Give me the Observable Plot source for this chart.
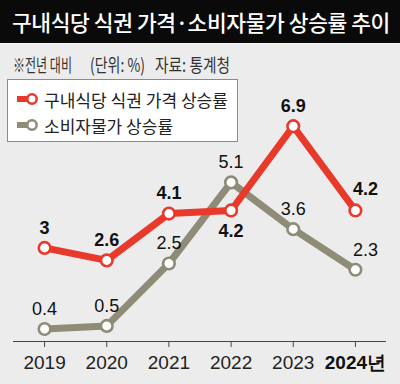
<!DOCTYPE html>
<html><head><meta charset="utf-8">
<script src="https://cdn.jsdelivr.net/npm/d3@7"></script>
<script src="https://cdn.jsdelivr.net/npm/@observablehq/plot@0.6"></script>
<style>
body{margin:0;}
#wrap{position:relative;width:400px;height:384px;background:#ececec;overflow:hidden;font-family:"Noto Sans CJK KR",sans-serif;}
#title{height:44px;background:#0a0a0a;color:#fff;line-height:43px;padding-left:12px;white-space:nowrap;font-weight:500;border-bottom:1px solid #f6f6f6;box-sizing:border-box;}
#sub{position:absolute;top:44px;left:0;width:400px;height:36px;color:#333;}
#sub .part{position:absolute;top:0;line-height:40px;font-size:18.5px;white-space:pre;transform-origin:0 50%;display:inline-block;}
#legend{position:absolute;left:7px;top:79px;width:231px;height:63px;background:#fff;border:1px solid #8a8a8a;box-sizing:border-box;}
.item{position:absolute;left:8px;height:22px;display:flex;align-items:center;color:#222;white-space:nowrap;}
.item svg{margin-right:6px;}
#chart{position:absolute;left:0;top:80px;}
.fit{display:inline-block;white-space:pre;}
</style>
</head><body>
<div id="wrap">
  <div id="title"><span class="fit" id="titleText"></span></div>
  <div id="sub"></div>
  <div id="chart"></div>
  <div id="legend"></div>
</div>
<script>
const titleText = "구내식당 식권 가격·소비자물가 상승률 추이";
const subtitleParts = ["※전년 대비", "(단위: %)", "자료: 통계청"];
const years = [2019, 2020, 2021, 2022, 2023, 2024];
const tickLabels = ["2019", "2020", "2021", "2022", "2023", "2024년"];
const seriesNames = ["구내식당 식권 가격 상승률", "소비자물가 상승률"];
const cafeteria = [3, 2.6, 4.1, 4.2, 6.9, 4.2];
const cpi = [0.4, 0.5, 2.5, 5.1, 3.6, 2.3];
const colors = ["#e8392b", "#8e8b77"];

function fit(el, size, target) {
  el.style.fontSize = size + "px";
  for (let k = 0; k < 3; k++) {
    const w = el.getBoundingClientRect().width;
    if (!w) break;
    size = size * target / w;
    el.style.fontSize = size + "px";
  }
}

const tEl = document.getElementById("titleText");
tEl.textContent = titleText;
tEl.style.letterSpacing = "-0.4px";
fit(tEl, 21.5, 378);

// subtitle: condensed parts (left edge, width in px)
const subLayout = [[13, 59], [90, 55], [155, 75]];
const sub = document.getElementById("sub");
subtitleParts.forEach((p, k) => {
  const s = document.createElement("span");
  s.className = "part";
  s.textContent = p;
  s.style.left = subLayout[k][0] + "px";
  sub.appendChild(s);
  const w = s.getBoundingClientRect().width;
  if (w) s.style.transform = `scaleX(${subLayout[k][1] / w})`;
});

// legend
const legend = document.getElementById("legend");
const legendTargets = [184, 129];
seriesNames.forEach((name, k) => {
  const it = document.createElement("div");
  it.className = "item";
  it.style.top = (k === 0 ? 8 : 34) + "px";
  it.innerHTML = `<svg width="22" height="16"><line x1="1" y1="8" x2="12" y2="8" stroke="${colors[k]}" stroke-width="6"/><circle cx="16" cy="8" r="4.7" fill="#fff" stroke="${colors[k]}" stroke-width="2.5"/></svg><span class="fit"></span>`;
  legend.appendChild(it);
  const sp = it.querySelector("span");
  sp.textContent = name;
  fit(sp, 17, legendTargets[k]);
});

const redData = years.map((y, i) => ({year: y, value: cafeteria[i], i}));
const grayData = years.map((y, i) => ({year: y, value: cpi[i], i}));
const last = years.length - 1;
const fmt = d => String(d.value);
const labelFont = "Liberation Sans, Arial, sans-serif";

const chart = Plot.plot({
  width: 400, height: 304,
  marginTop: 11.4, marginBottom: 43, marginLeft: 13, marginRight: 14,
  style: {background: "transparent", fontFamily: labelFont, overflow: "visible"},
  x: {type: "linear", domain: [2018.5, 2024.5]},
  y: {domain: [0, 8], axis: null},
  marks: [
    Plot.ruleY([0], {stroke: "#444", strokeWidth: 1}),
    Plot.axisX(years.slice(0, last), {tickSize: 6, tickPadding: 8, stroke: "#444", fill: "#222",
      fontSize: 19, fontFamily: "Liberation Sans Narrow, Arial Narrow, sans-serif",
      tickFormat: d => tickLabels[years.indexOf(d)], label: null}),
    Plot.axisX([years[last]], {tickSize: 6, tickPadding: 8, stroke: "#444", fill: "#111",
      fontSize: 19, fontWeight: "bold", fontFamily: "Liberation Sans Narrow, Arial Narrow, sans-serif",
      tickFormat: d => tickLabels[years.indexOf(d)], label: null}),
    Plot.line(grayData, {x: "year", y: "value", stroke: colors[1], strokeWidth: 7, strokeLinejoin: "round"}),
    Plot.dot(grayData, {x: "year", y: "value", r: 5.8, fill: "#fff", stroke: colors[1], strokeWidth: 2.6}),
    Plot.line(redData, {x: "year", y: "value", stroke: colors[0], strokeWidth: 7, strokeLinejoin: "round"}),
    Plot.dot(redData, {x: "year", y: "value", r: 5.8, fill: "#fff", stroke: colors[0], strokeWidth: 2.6}),
    Plot.text(grayData.filter(d => d.i < last), {x: "year", y: "value", text: fmt, dy: -20, fontSize: 18, fill: "#111"}),
    Plot.text(grayData.filter(d => d.i === last), {x: "year", y: "value", text: fmt, dy: -20, dx: 10, fontSize: 18, fill: "#111"}),
    Plot.text(redData.filter(d => d.i < last && d.i !== 3), {x: "year", y: "value", text: fmt, dy: -20, fontSize: 18, fontWeight: "bold", fill: "#111"}),
    Plot.text(redData.filter(d => d.i === 3), {x: "year", y: "value", text: fmt, dy: 21, fontSize: 18, fontWeight: "bold", fill: "#111"}),
    Plot.text(redData.filter(d => d.i === last), {x: "year", y: "value", text: fmt, dy: -21, dx: 10, fontSize: 18, fontWeight: "bold", fill: "#111"})
  ]
});
document.getElementById("chart").appendChild(chart);
</script>
</body></html>
